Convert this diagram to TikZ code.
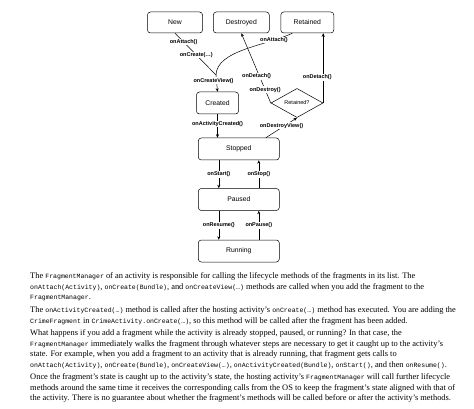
\documentclass[tikz,border=0pt]{standalone}
\usepackage{fontspec}
\setmainfont{Liberation Serif}
\setsansfont{Liberation Sans}
\setmonofont{Liberation Mono}
\usetikzlibrary{shapes.geometric,arrows.meta}

\newcommand{\cd}[1]{{\fontsize{6.5}{10}\selectfont\ttfamily #1}}

\tikzset{
  state/.style={draw, rounded corners=3pt, minimum height=21pt, inner sep=0,
    font=\fontsize{6.8}{8}\selectfont\sffamily},
  lbl/.style={fill=white, inner sep=0.8pt, font=\fontsize{5.5}{6}\selectfont\sffamily\bfseries},
  para/.style={anchor=base west, inner sep=0, font=\fontsize{8.4}{10}\selectfont}
}

\begin{document}
\begin{tikzpicture}[x=1pt, y=-1pt, line width=0.5pt, >={Stealth[length=3.5pt,width=3pt]}]
  \useasboundingbox[fill=white] (0,0) rectangle (474,409);

  % top row
  \node[state, minimum width=55pt] (new) at (175,22.5) {New};
  \node[state, minimum width=56pt] (destroyed) at (241.3,22.5) {Destroyed};
  \node[state, minimum width=53pt] (retained) at (307.3,22.5) {Retained};

  % created and the retained check
  \node[state, minimum width=42pt, minimum height=22pt] (created) at (217.5,103) {Created};
  \node[draw, diamond, minimum width=52pt, minimum height=21pt, inner sep=0,
    font=\fontsize{5.5}{6}\selectfont\sffamily] (retq) at (297,103) {Retained?};

  % activity states
  \node[state, minimum width=81pt, minimum height=22pt] (stopped) at (238.8,149) {Stopped};
  \node[state, minimum width=81pt, minimum height=22pt] (paused) at (238.8,199.5) {Paused};
  \node[state, minimum width=81pt, minimum height=22pt] (running) at (238.8,251) {Running};

  % attaching
  \coordinate (join) at (216,75);
  \draw (new.south) -- node[lbl, pos=0.21]{onAttach()} node[lbl, pos=0.52]{onCreate(…)} (join);
  \draw ([xshift=-15pt]retained.south) .. controls (265,46) and (217,50) .. node[lbl, pos=0.2]{onAttach()} (join);
  \draw[->] (join) -- node[lbl, pos=0.35, xshift=-3pt]{onCreateView()} (created.north);
  \draw[->] (created.south) -- node[lbl, pos=0.42]{onActivityCreated()} (created.south |- stopped.north);

  % detaching
  \draw[->] ([xshift=27pt]stopped.north) -- node[lbl, pos=0.6, xshift=-3pt]{onDestroyView()} (retq.south);
  \draw[->] (retq.west) -- node[lbl, pos=0.19]{onDestroy()} node[lbl, pos=0.38, xshift=-3pt]{onDetach()} (destroyed.south);
  \draw[->] (retq.east) -- node[lbl, pos=0.37, xshift=-6pt]{onDetach()} (retq.east |- retained.south);

  % start / stop and resume / pause
  \draw[->] ([xshift=-20pt]stopped.south) -- node[lbl]{onStart()} ([xshift=-20pt]paused.north);
  \draw[->] ([xshift=20pt]paused.north) -- node[lbl]{onStop()} ([xshift=20pt]stopped.south);
  \draw[->] ([xshift=-20pt]paused.south) -- node[lbl]{onResume()} ([xshift=-20pt]running.north);
  \draw[->] ([xshift=20pt]running.north) -- node[lbl]{onPause()} ([xshift=20pt]paused.south);

  % text below the diagram
  \node[para] (p1a) at (30,278.5) {The \cd{FragmentManager} of an activity is responsible for calling the lifecycle methods of the fragments in its list. The};
  \node[para] (p1b) at (30,289) {\cd{onAttach(Activity)}, \cd{onCreate(Bundle)}, and \cd{onCreateView(…)} methods are called when you add the fragment to the};
  \node[para] (p1c) at (30,299.5) {\cd{FragmentManager}.};
  \node[para] (p2a) at (30,312.5) {The \cd{onActivityCreated(…)} method is called after the hosting activity's \cd{onCreate(…)} method has executed. You are adding the};
  \node[para] (p2b) at (30,323) {\cd{CrimeFragment} in \cd{CrimeActivity.onCreate(…)}, so this method will be called after the fragment has been added.};
  \node[para] (p3a) at (30,335.5) {What happens if you add a fragment while the activity is already stopped, paused, or running? In that case, the};
  \node[para] (p3b) at (30,346) {\cd{FragmentManager} immediately walks the fragment through whatever steps are necessary to get it caught up to the activity's};
  \node[para] (p3c) at (30,356.5) {state. For example, when you add a fragment to an activity that is already running, that fragment gets calls to};
  \node[para] (p3d) at (30,367) {\cd{onAttach(Activity)}, \cd{onCreate(Bundle)}, \cd{onCreateView(…)}, \cd{onActivityCreated(Bundle)}, \cd{onStart()}, and then \cd{onResume()}.};
  \node[para] (p4a) at (30,379.5) {Once the fragment's state is caught up to the activity's state, the hosting activity's \cd{FragmentManager} will call further lifecycle};
  \node[para] (p4b) at (30,390) {methods around the same time it receives the corresponding calls from the OS to keep the fragment's state aligned with that of};
  \node[para] (p4c) at (30,400.5) {the activity. There is no guarantee about whether the fragment's methods will be called before or after the activity's methods.};
\end{tikzpicture}
\end{document}
